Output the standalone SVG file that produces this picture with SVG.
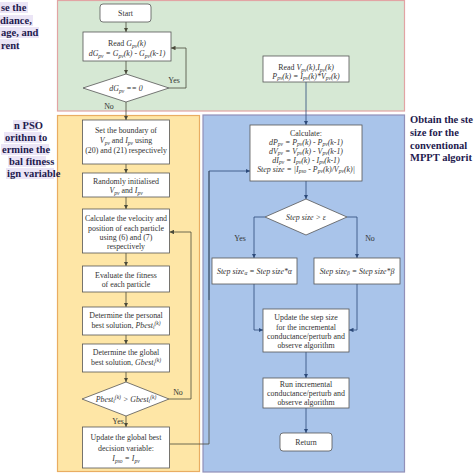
<svg xmlns="http://www.w3.org/2000/svg" width="474" height="474" viewBox="0 0 474 474">
<style>
.t{font-family:"Liberation Serif","Times New Roman",serif;font-size:7.9px;fill:#333;text-anchor:middle}
.i{font-style:italic}
.s{font-size:5.5px}
.box{fill:#fff;stroke:#555;stroke-width:0.8}
.c{fill:none;stroke:#4a4a3a;stroke-width:0.8}
.cb{fill:none;stroke:#2c4a7a;stroke-width:0.8}
.lab{font-family:"Liberation Serif","Times New Roman",serif;font-size:10.5px;font-weight:bold;fill:#1e1a4e}
.hl{fill:#ebe5f6}
</style>
<defs>
<marker id="ah" viewBox="0 0 6 6" refX="6" refY="3" markerWidth="4.5" markerHeight="4.5" markerUnits="userSpaceOnUse" orient="auto"><path d="M0,0 L6,3 L0,6 z" fill="#4a4a3a"/></marker>
<marker id="ahb" viewBox="0 0 6 6" refX="6" refY="3" markerWidth="4.5" markerHeight="4.5" markerUnits="userSpaceOnUse" orient="auto"><path d="M0,0 L6,3 L0,6 z" fill="#2c4a7a"/></marker>
</defs>
<rect width="474" height="474" fill="#fff"/>
<!-- panels -->
<g id="panels">
<rect x="57.5" y="0.5" width="347" height="110.5" fill="#d6e8d4" stroke="#e2a4a4" stroke-width="1.2"/>
<rect x="57.5" y="115.5" width="142" height="356" fill="#fee6a6" stroke="#e9ad62" stroke-width="1.2"/>
<rect x="203" y="115" width="201.5" height="357" fill="#a9c4ea" stroke="#9290b8" stroke-width="1.2"/>
</g>
<!-- side labels -->
<g id="labels">
<rect class="hl" x="0" y="2" width="28" height="11"/>
<rect class="hl" x="0" y="15" width="33" height="11"/>
<rect class="hl" x="0" y="27" width="39" height="11"/>
<rect class="hl" x="0" y="39" width="19" height="11"/>
<text class="lab" x="1" y="11">se the</text>
<text class="lab" x="0" y="23.5">diance,</text>
<text class="lab" x="1" y="36">age, and</text>
<text class="lab" x="1" y="48.5">rent</text>
<rect class="hl" x="13" y="120" width="25" height="11"/>
<rect class="hl" x="4" y="132" width="38" height="11"/>
<rect class="hl" x="1" y="144" width="48" height="11"/>
<rect class="hl" x="8" y="156" width="38" height="11"/>
<rect class="hl" x="6" y="168" width="48" height="11"/>
<text class="lab" x="14" y="129">n PSO</text>
<text class="lab" x="5" y="141">orithm to</text>
<text class="lab" x="2" y="153">ermine the</text>
<text class="lab" x="9" y="165">bal fitness</text>
<text class="lab" x="7" y="177">ign variable</text>
<text class="lab" x="410" y="123">Obtain the ste</text>
<text class="lab" x="410" y="136">size for the</text>
<text class="lab" x="410" y="149">conventional</text>
<text class="lab" x="410" y="161">MPPT algorit</text>
</g>
<!-- connectors -->
<g id="connectors">
<path class="c" d="M126,22 V32" marker-end="url(#ah)"/>
<path class="c" d="M126,61 V74" marker-end="url(#ah)"/>
<path class="c" d="M169,88 H186 V48 H171" marker-end="url(#ah)"/>
<path class="c" d="M126,102 V120" marker-end="url(#ah)"/>
<path class="c" d="M126,164 V173" marker-end="url(#ah)"/>
<path class="c" d="M126,197 V209" marker-end="url(#ah)"/>
<path class="c" d="M126,253 V266" marker-end="url(#ah)"/>
<path class="c" d="M126,292 V307" marker-end="url(#ah)"/>
<path class="c" d="M126,335 V344" marker-end="url(#ah)"/>
<path class="c" d="M126,372 V382" marker-end="url(#ah)"/>
<path class="c" d="M169,399 H191 V232 H169.5" marker-end="url(#ah)"/>
<path class="c" d="M126,416 V427" marker-end="url(#ah)"/>
<path class="c" d="M169.5,444 H209 V171" />
<path class="cb" d="M209,300 V171 H250" marker-end="url(#ahb)"/>
<path class="cb" d="M306,82 V125" marker-end="url(#ahb)"/>
<path class="cb" d="M306,181 V199" marker-end="url(#ahb)"/>
<path class="cb" d="M265,217 H254 V258" marker-end="url(#ahb)"/>
<path class="cb" d="M347,217 H357 V258" marker-end="url(#ahb)"/>
<path class="cb" d="M254,284 V330 H263" marker-end="url(#ahb)"/>
<path class="cb" d="M357,284 V330 H349" marker-end="url(#ahb)"/>
<path class="cb" d="M306,352 V378" marker-end="url(#ahb)"/>
<path class="cb" d="M306,408 V433" marker-end="url(#ahb)"/>
<text class="t" x="174" y="83">Yes</text>
<text class="t" x="109" y="109">No</text>
<text class="t" x="178" y="395">No</text>
<text class="t" x="118" y="424">Yes</text>
<text class="t" x="240" y="241">Yes</text>
<text class="t" x="370" y="241">No</text>
</g>
<!-- nodes: green -->
<g id="start"><rect class="box" x="100" y="4" width="51" height="18" rx="3"/><text class="t" x="125.5" y="15.8">Start</text></g>
<g id="readG"><rect class="box" x="83" y="32" width="88" height="29"/>
<text class="t" x="127" y="46">Read <tspan class="i">G<tspan class="s" dy="1.8">pv</tspan><tspan dy="-1.8">(k)</tspan></tspan></text>
<text class="t i" x="127" y="56">dG<tspan class="s" dy="1.8">pv</tspan><tspan dy="-1.8"> = G</tspan><tspan class="s" dy="1.8">pv</tspan><tspan dy="-1.8">(k) - G</tspan><tspan class="s" dy="1.8">pv</tspan><tspan dy="-1.8">(k-1)</tspan></text></g>
<g id="dG"><path class="box" d="M83,88 L126,74 L169,88 L126,102 Z"/>
<text class="t i" x="126" y="91">dG<tspan class="s" dy="1.8">pv</tspan><tspan dy="-1.8"> == 0</tspan></text></g>
<g id="readV"><rect class="box" x="263" y="56" width="86" height="26"/>
<text class="t" x="306" y="70">Read <tspan class="i">V<tspan class="s" dy="1.8">pv</tspan><tspan dy="-1.8">(k),I</tspan><tspan class="s" dy="1.8">pv</tspan><tspan dy="-1.8">(k)</tspan></tspan></text>
<text class="t i" x="306" y="78.5">P<tspan class="s" dy="1.8">pv</tspan><tspan dy="-1.8">(k) = I</tspan><tspan class="s" dy="1.8">pv</tspan><tspan dy="-1.8">(k)*V</tspan><tspan class="s" dy="1.8">pv</tspan><tspan dy="-1.8">(k)</tspan></text></g>
<!-- nodes: yellow -->
<g id="bound"><rect class="box" x="82.5" y="120" width="87" height="44"/>
<text class="t" x="126" y="133">Set the boundary of</text>
<text class="t" x="126" y="143"><tspan class="i">V<tspan class="s" dy="1.8">pv</tspan></tspan><tspan dy="-1.8"> and </tspan><tspan class="i">I<tspan class="s" dy="1.8">pv</tspan></tspan><tspan dy="-1.8"> using</tspan></text>
<text class="t" x="126" y="153">(20) and (21) respectively</text></g>
<g id="init"><rect class="box" x="82.5" y="173" width="87" height="24"/>
<text class="t" x="126" y="184">Randomly initialised</text>
<text class="t" x="126" y="193"><tspan class="i">V<tspan class="s" dy="1.8">pv</tspan></tspan><tspan dy="-1.8"> and </tspan><tspan class="i">I<tspan class="s" dy="1.8">pv</tspan></tspan></text></g>
<g id="velocity"><rect class="box" x="82.5" y="209" width="87" height="44"/>
<text class="t" x="126" y="221">Calculate the velocity and</text>
<text class="t" x="126" y="230.5">position of each particle</text>
<text class="t" x="126" y="240">using (6) and (7)</text>
<text class="t" x="126" y="249">respectively</text></g>
<g id="fitness"><rect class="box" x="82.5" y="266" width="87" height="26"/>
<text class="t" x="126" y="278">Evaluate the fitness</text>
<text class="t" x="126" y="287">of each particle</text></g>
<g id="pbest"><rect class="box" x="82.5" y="307" width="87" height="28"/>
<text class="t" x="126" y="317.5">Determine the personal</text>
<text class="t" x="126" y="327.5">best solution, <tspan class="i">Pbest<tspan class="s" dy="1.8">i</tspan><tspan class="s" dy="-4.5">(k)</tspan></tspan></text></g>
<g id="gbest"><rect class="box" x="82.5" y="344" width="87" height="28"/>
<text class="t" x="126" y="354.5">Determine the global</text>
<text class="t" x="126" y="364.5">best solution, <tspan class="i">Gbest<tspan class="s" dy="1.8">i</tspan><tspan class="s" dy="-4.5">(k)</tspan></tspan></text></g>
<g id="compare"><path class="box" d="M82,399 L126,382 L169,399 L126,416 Z"/>
<text class="t i" x="126" y="401.5">Pbest<tspan class="s" dy="1.8">i</tspan><tspan class="s" dy="-4.5">(k)</tspan><tspan dy="2.7"> &gt; Gbest</tspan><tspan class="s" dy="1.8">i</tspan><tspan class="s" dy="-4.5">(k)</tspan></text></g>
<g id="updGlobal"><rect class="box" x="82.5" y="427" width="87" height="41"/>
<text class="t" x="126" y="440">Update the global best</text>
<text class="t" x="126" y="450.5">decision variable:</text>
<text class="t i" x="126" y="461">I<tspan class="s" dy="1.8">pso</tspan><tspan dy="-1.8"> = I</tspan><tspan class="s" dy="1.8">pv</tspan></text></g>
<!-- nodes: blue -->
<g id="calc"><rect class="box" x="250" y="125" width="112" height="56"/>
<text class="t" x="306" y="135.5">Calculate:</text>
<text class="t i" x="306" y="144.5">dP<tspan class="s" dy="1.8">pv</tspan><tspan dy="-1.8"> = P</tspan><tspan class="s" dy="1.8">pv</tspan><tspan dy="-1.8">(k) - P</tspan><tspan class="s" dy="1.8">pv</tspan><tspan dy="-1.8">(k-1)</tspan></text>
<text class="t i" x="306" y="153.5">dV<tspan class="s" dy="1.8">pv</tspan><tspan dy="-1.8"> = V</tspan><tspan class="s" dy="1.8">pv</tspan><tspan dy="-1.8">(k) - V</tspan><tspan class="s" dy="1.8">pv</tspan><tspan dy="-1.8">(k-1)</tspan></text>
<text class="t i" x="306" y="162.5">dI<tspan class="s" dy="1.8">pv</tspan><tspan dy="-1.8"> = I</tspan><tspan class="s" dy="1.8">pv</tspan><tspan dy="-1.8">(k) - I</tspan><tspan class="s" dy="1.8">pv</tspan><tspan dy="-1.8">(k-1)</tspan></text>
<text class="t i" x="306" y="171.5">Step size = |I<tspan class="s" dy="1.8">pso</tspan><tspan dy="-1.8"> - P</tspan><tspan class="s" dy="1.8">pv</tspan><tspan dy="-1.8">(k)/V</tspan><tspan class="s" dy="1.8">pv</tspan><tspan dy="-1.8">(k)|</tspan></text></g>
<g id="eps"><path class="box" d="M265,217 L306,199 L347,217 L306,235 Z"/>
<text class="t i" x="306" y="219.5">Step size &gt; ε</text></g>
<g id="alpha"><rect class="box" x="212" y="258" width="85" height="26"/>
<text class="t i" x="254.5" y="273.5">Step size<tspan class="s" dy="1.8">α</tspan><tspan dy="-1.8"> = Step size*α</tspan></text></g>
<g id="beta"><rect class="box" x="314" y="258" width="86" height="26"/>
<text class="t i" x="357" y="273.5">Step size<tspan class="s" dy="1.8">β</tspan><tspan dy="-1.8"> = Step size*β</tspan></text></g>
<g id="updStep"><rect class="box" x="263" y="309" width="86" height="43"/>
<text class="t" x="306" y="320">Update the step size</text>
<text class="t" x="306" y="329.5">for the incremental</text>
<text class="t" x="306" y="339">conductance/perturb and</text>
<text class="t" x="306" y="348">observe algorithm</text></g>
<g id="run"><rect class="box" x="263" y="378" width="86" height="30"/>
<text class="t" x="306" y="386.5">Run incremental</text>
<text class="t" x="306" y="395.5">conductance/perturb and</text>
<text class="t" x="306" y="404.5">observe algorithm</text></g>
<g id="return"><rect class="box" x="280" y="433" width="52" height="18" rx="3"/>
<text class="t" x="306" y="444.8">Return</text></g>
</svg>
